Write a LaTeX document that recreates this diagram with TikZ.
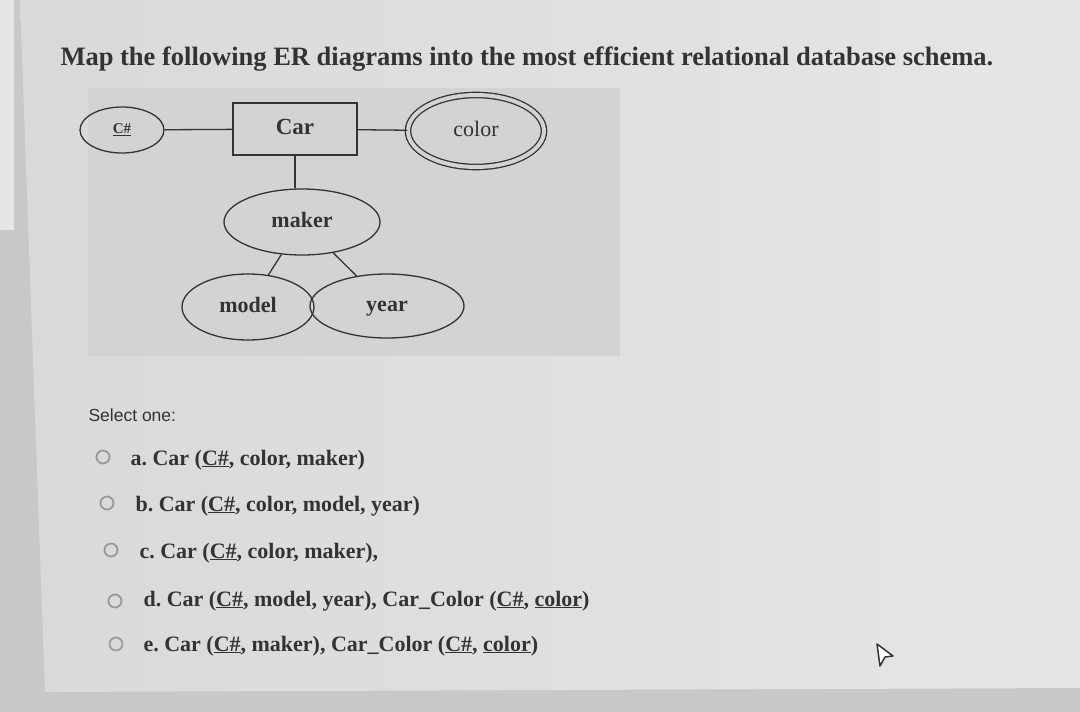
\documentclass[tikz,border=0pt]{standalone}
\usepackage{fontspec}
\setmainfont{Liberation Serif}
\setsansfont{Liberation Sans}
\usetikzlibrary{shapes.geometric}
\frenchspacing

\definecolor{screen}{HTML}{C8C8C8}
\definecolor{panel}{HTML}{D9D9D9}
\definecolor{panellight}{HTML}{E6E6E6}
\definecolor{figbox}{HTML}{D3D3D3}
\definecolor{ink}{HTML}{333333}
\definecolor{radio}{HTML}{9A9A9A}

\tikzset{
    attr/.style={ellipse, draw=ink, line width=1.3pt, inner sep=0pt, text=ink,
        text height=15pt, text depth=4pt, font=\fontsize{22}{24}\selectfont\bfseries},
    entity/.style={rectangle, draw=ink, line width=1.3pt, inner sep=0pt, text=ink,
        text height=15pt, text depth=4pt, font=\fontsize{23}{24}\selectfont\bfseries},
    link/.style={ink, line width=1.3pt},
    choice/.style={anchor=base west, text=ink, font=\fontsize{22}{24}\selectfont\bfseries},
    radiobtn/.style={circle, draw=radio, line width=1.8pt, minimum size=13pt, inner sep=0pt}
}

\begin{document}
\begin{tikzpicture}[x=1pt, y=-1pt]
    % screen and panel
    \fill[screen] (0,0) rectangle (1080,712);
    \shade[left color=panel, right color=panellight] (20,0) -- (1080,0) -- (1080,688) -- (45,692) -- cycle;
    \fill[panellight] (0,0) rectangle (14,230);
    \fill[figbox] (88,88) rectangle (620,356);

    % question
    \node[anchor=base west, text=ink, font=\fontsize{26.5}{28}\selectfont\bfseries] (title) at (57,65)
        {Map the following ER diagrams into the most efficient relational database schema.};

    % entity and attributes
    \node[entity, minimum width=124pt, minimum height=52pt] (car) at (295,129) {Car};
    \node[attr, minimum width=84pt, minimum height=46pt, text height=10pt, text depth=3pt,
        font=\fontsize{15}{16}\selectfont\bfseries] (cnum) at (122,130) {\underline{C\#}};
    \node[attr, double=figbox, double distance=4pt, minimum width=136pt, minimum height=72pt,
        font=\fontsize{22}{24}\selectfont] (color) at (476,131) {color};
    \node[attr, minimum width=156pt, minimum height=66pt] (maker) at (302,222) {maker};
    \node[attr, minimum width=132pt, minimum height=66pt] (model) at (248,307) {model};
    \node[attr, minimum width=154pt, minimum height=64pt] (year) at (387,306) {year};

    % links
    \draw[link] (cnum) -- (car);
    \draw[link] (car) -- (color);
    \draw[link] (car.south) -- (car.south |- maker.north);
    \draw[link] (maker) -- (model);
    \draw[link] (maker) -- (year);

    % choices
    \node[anchor=base west, text=ink, font=\sffamily\fontsize{17.5}{20}\selectfont] (select) at (85,421) {Select one:};
    \foreach \name/\rx/\ry/\tx/\ty/\txt in {
        a/103/457/127/465/{a. Car (\underline{C\#}, color, maker)},
        b/107/503/132/511/{b. Car (\underline{C\#}, color, model, year)},
        c/111/550/136/558/{c. Car (\underline{C\#}, color, maker),},
        d/115/601/140/606/{d. Car (\underline{C\#}, model, year), Car\_Color (\underline{C\#}, \underline{color})},
        e/116/644/140/651/{e. Car (\underline{C\#}, maker), Car\_Color (\underline{C\#}, \underline{color})}}
    {
        \node[radiobtn] (radio\name) at (\rx,\ry) {};
        \node[choice] (opt\name) at (\tx,\ty) {\txt};
    }

    % mouse pointer
    \draw[ink, fill=white, line width=1.5pt, line join=round] (877,644) -- (893,656) -- (885,657) -- (880,666) -- cycle;
\end{tikzpicture}
\end{document}
